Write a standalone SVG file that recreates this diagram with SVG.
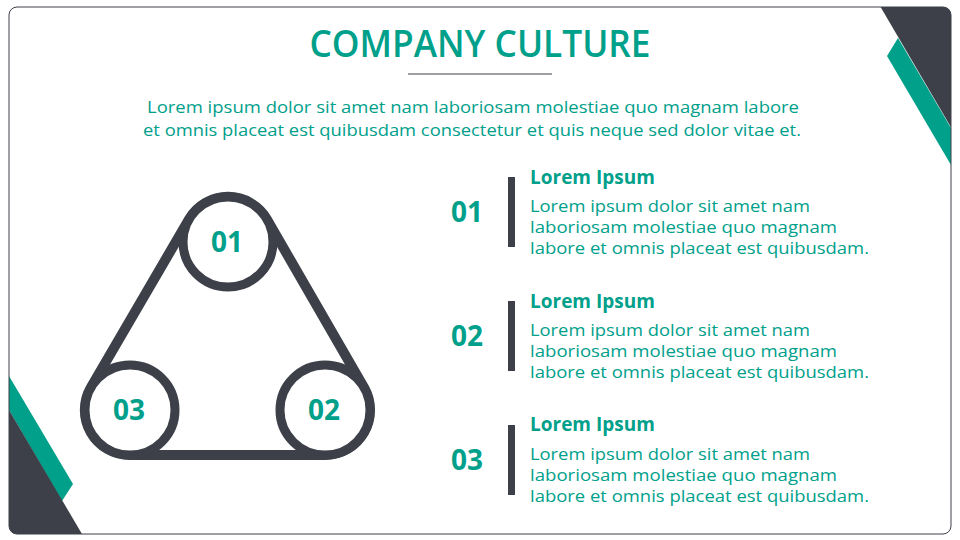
<svg xmlns="http://www.w3.org/2000/svg" width="960" height="540" viewBox="0 0 960 540">
<defs>
<style>
.t{fill:#00a08b;font-family:"Open Sans","Liberation Sans",sans-serif}
.dk{fill:#3d4049}
.tl{fill:#00a08b}
.ring{fill:#fff;stroke:#3d4049;stroke-width:9}
.num{font-size:28px;font-weight:700;text-anchor:middle}
.head{font-size:19px;font-weight:700}
.body{font-size:17px}
</style>
<clipPath id="frameClip"><rect x="9" y="7" width="942" height="527" rx="8"/></clipPath>
</defs>
<rect width="960" height="540" fill="#fff"/>
<g id="decor" clip-path="url(#frameClip)">
<polygon class="tl" points="898,38 887,56 951,165 951,128"/>
<polygon class="dk" points="880,6 952,6 952,129"/>
<polygon class="tl" points="9,376 73,484 62,501 9,410"/>
<polygon class="dk" points="9,410 82,534 9,534"/>
</g>
<rect id="frame" x="9" y="7" width="942" height="527" rx="8" fill="none" stroke="#3d4049" stroke-width="1"/>
<g id="title">
<text class="t" x="480" y="57" font-size="38" font-weight="600" text-anchor="middle" textLength="341" lengthAdjust="spacingAndGlyphs">COMPANY CULTURE</text>
<line x1="408" y1="74" x2="552" y2="74" stroke="#3d4049" stroke-width="1.2"/>
<text class="t body" x="473" y="113" text-anchor="middle" textLength="652" lengthAdjust="spacingAndGlyphs">Lorem ipsum dolor sit amet nam laboriosam molestiae quo magnam labore</text>
<text class="t body" x="472" y="136" text-anchor="middle" textLength="658" lengthAdjust="spacingAndGlyphs">et omnis placeat est quibusdam consectetur et quis neque sed dolor vitae et.</text>
</g>
<g id="connectors">
<path d="M189,219.3 A45,45 0 0 1 267,219.5 L364,387.5 A45,45 0 0 1 325,455 L130,455 A45,45 0 0 1 91,387.3 Z" fill="none" stroke="#3d4049" stroke-width="10" stroke-linejoin="round"/>
</g>
<g id="node-c01"><circle class="ring" cx="228" cy="242" r="45"/><text class="t num" x="227" y="252">01</text></g>
<g id="node-c02"><circle class="ring" cx="325" cy="410" r="45"/><text class="t num" x="324" y="420">02</text></g>
<g id="node-c03"><circle class="ring" cx="130" cy="410" r="45"/><text class="t num" x="129" y="420">03</text></g>
<g id="item-01">
<text class="t num" x="467" y="222">01</text>
<rect class="dk" x="508" y="177" width="7" height="70"/>
<text class="t head" x="530" y="184">Lorem Ipsum</text>
<text class="t body" x="530" y="212" textLength="280" lengthAdjust="spacingAndGlyphs">Lorem ipsum dolor sit amet nam</text>
<text class="t body" x="530" y="233" textLength="307" lengthAdjust="spacingAndGlyphs">laboriosam molestiae quo magnam</text>
<text class="t body" x="530" y="254" textLength="339" lengthAdjust="spacingAndGlyphs">labore et omnis placeat est quibusdam.</text>
</g>
<g id="item-02">
<text class="t num" x="467" y="346">02</text>
<rect class="dk" x="508" y="301" width="7" height="70"/>
<text class="t head" x="530" y="308">Lorem Ipsum</text>
<text class="t body" x="530" y="336" textLength="280" lengthAdjust="spacingAndGlyphs">Lorem ipsum dolor sit amet nam</text>
<text class="t body" x="530" y="357" textLength="307" lengthAdjust="spacingAndGlyphs">laboriosam molestiae quo magnam</text>
<text class="t body" x="530" y="378" textLength="339" lengthAdjust="spacingAndGlyphs">labore et omnis placeat est quibusdam.</text>
</g>
<g id="item-03">
<text class="t num" x="467" y="470">03</text>
<rect class="dk" x="508" y="425" width="7" height="70"/>
<text class="t head" x="530" y="431">Lorem Ipsum</text>
<text class="t body" x="530" y="460" textLength="280" lengthAdjust="spacingAndGlyphs">Lorem ipsum dolor sit amet nam</text>
<text class="t body" x="530" y="481" textLength="307" lengthAdjust="spacingAndGlyphs">laboriosam molestiae quo magnam</text>
<text class="t body" x="530" y="502" textLength="339" lengthAdjust="spacingAndGlyphs">labore et omnis placeat est quibusdam.</text>
</g>
</svg>
